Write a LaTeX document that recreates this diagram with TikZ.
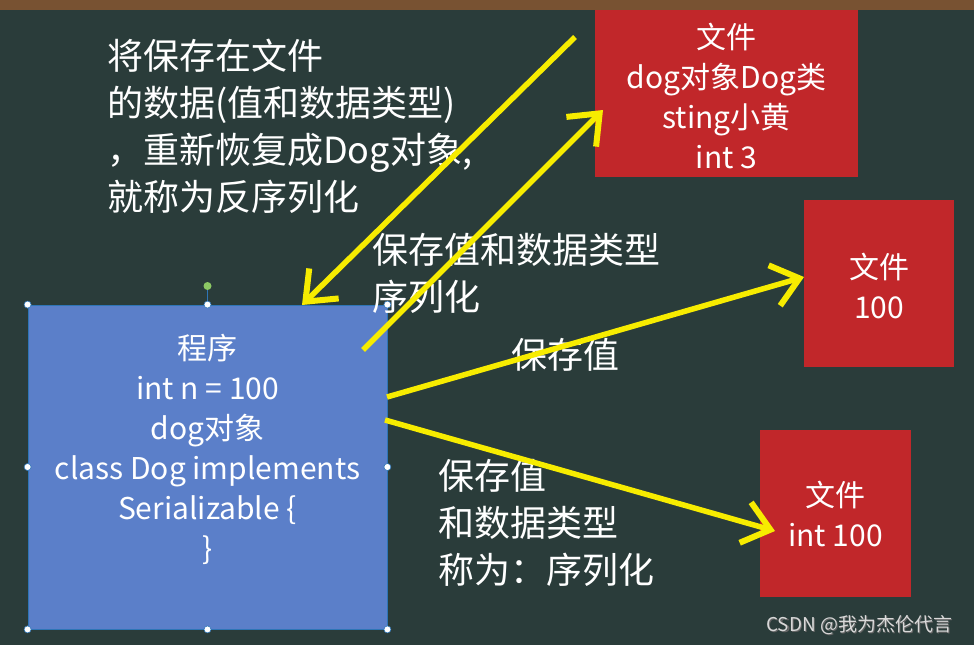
\documentclass[tikz,border=0pt]{standalone}
\usepackage{fontspec}
\newfontfamily\cjk{Noto Sans CJK SC}
\usetikzlibrary{arrows.meta,calc}
\definecolor{board}{RGB}{42,60,58}
\definecolor{wood}{RGB}{120,82,50}
\definecolor{progblue}{RGB}{91,127,201}
\definecolor{filered}{RGB}{193,39,42}
\definecolor{yel}{RGB}{247,236,0}
\definecolor{handle}{RGB}{46,117,182}
\definecolor{rotgreen}{RGB}{140,200,100}
\tikzset{
  prog/.style={rectangle, fill=progblue, draw=handle, line width=0.8pt, inner sep=0pt},
  filebox/.style={rectangle, fill=filered, inner sep=0pt},
  boxtext/.style={text=white, font=\cjk\fontsize{30}{40}\selectfont, align=center, inner sep=0pt},
  lbl/.style={text=white, font=\cjk\fontsize{36}{47}\selectfont, align=left, inner sep=0pt, anchor=north west},
  arr/.style={draw=yel, line width=5.5pt, -{Straight Barb[length=26pt,width=42pt,line width=6pt,sharp]}},
  hdl/.style={circle, fill=white, draw=handle, line width=0.6pt, minimum size=7pt, inner sep=0pt},
}
\begin{document}
\begin{tikzpicture}[x=1pt,y=-1pt]
\useasboundingbox (0,0) rectangle (974,645);
\fill[board] (0,0) rectangle (974,645);
\fill[wood] (0,0) rectangle (974,10);

% boxes
\node[prog, minimum width=359pt, minimum height=324pt] (prog) at (207.5,467) {};
\node[boxtext] (progtxt) at (207.5,449.5) {程序\\int n = 100\\dog对象\\class Dog implements\\Serializable \{\\\}};

\node[filebox, minimum width=263pt, minimum height=167pt] (f1) at (726.5,93.5) {};
\node[boxtext] (f1txt) at (726.5,96) {文件\\dog对象Dog类\\sting小黄\\int 3};

\node[filebox, minimum width=150pt, minimum height=167pt] (f2) at (879,283.5) {};
\node[boxtext] (f2txt) at (879,285.5) {文件\\100};

\node[filebox, minimum width=151pt, minimum height=167pt] (f3) at (835.5,513.5) {};
\node[boxtext] (f3txt) at (835.5,513.5) {文件\\int 100};

% selection handles
\coordinate (rot) at (207.5,286);
\draw[handle, line width=1pt] (prog.north) -- (rot);
\node[circle, fill=rotgreen, minimum size=8pt, inner sep=0pt] (rotc) at (rot) {};
\foreach \a in {north west,north,north east,west,east,south west,south,south east}
  \node[hdl] at (prog.\a) {};

% labels
\node[lbl] (deser) at (107,39) {将保存在文件\\的数据(值和数据类型)\\，重新恢复成Dog对象,\\就称为反序列化};
\node[lbl] (ser1) at (372,233) {保存值和数据类型\\序列化};
\node[lbl] (val) at (511,338) {保存值};
\node[lbl] (ser2) at (438,459) {保存值\\和数据类型\\称为：序列化};

% arrows
\coordinate (aS) at (575,37);
\coordinate (aE) at (302,305);
\coordinate (bS) at (363,350);
\coordinate (bE) at (603,110);
\coordinate (cS) at (387,397);
\coordinate (cE) at (804,277);
\coordinate (dS) at (385,420);
\coordinate (dE) at (775,531);
\draw[arr] (aS) -- (aE);
\draw[arr] (bS) -- (bE);
\draw[arr] (cS) -- (cE);
\draw[arr] (dS) -- (dE);

% watermark
\node[text=black!60, font=\cjk\fontsize{19}{22}\selectfont, anchor=west, inner sep=0pt] at (767.2,625.8) {CSDN @我为杰伦代言};
\node[text=white!85!black, font=\cjk\fontsize{19}{22}\selectfont, anchor=west, inner sep=0pt] (wm) at (766,625) {CSDN @我为杰伦代言};
\end{tikzpicture}
\end{document}
